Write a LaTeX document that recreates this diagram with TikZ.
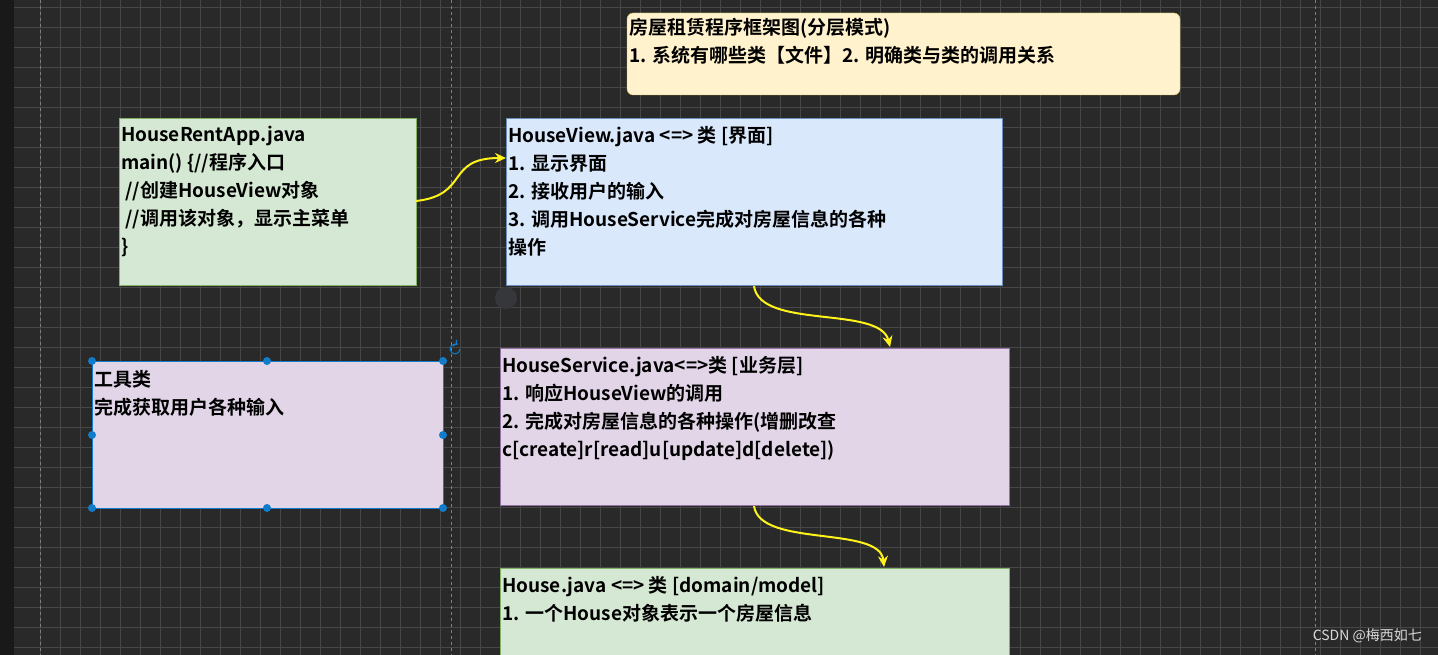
\documentclass[tikz,border=0pt]{standalone}
\usepackage{fontspec}
\usetikzlibrary{arrows.meta}
\setmainfont{Noto Sans CJK SC}[BoldFont={* Bold}]
\begin{document}
\begin{tikzpicture}[x=1pt,y=-1pt,
  box/.style={draw=#1,line width=1pt},
  txt/.style={anchor=north west,align=left,font=\fontsize{19}{28}\selectfont\bfseries,text=black,inner sep=0pt},
  arr/.style={draw=yellow!90!white,line width=2pt,-{Stealth[length=11pt,width=10pt]}},
  handle/.style={circle,fill=cyan!60!blue,inner sep=0pt,minimum size=8pt}]
\useasboundingbox (0,0) rectangle (1438,655);
\fill[black!84] (0,0) rectangle (1438,655);
\fill[black!90] (0,0) rectangle (14,655);
\foreach \x in {40,60,...,1438} \draw[black!72,line width=0.6pt] (\x,0) -- (\x,655);
\foreach \y in {7,27,...,655} \draw[black!72,line width=0.6pt] (14,\y) -- (1438,\y);
\foreach \x in {40,451,1315} \draw[black!50,dashed,line width=0.8pt] (\x,0) -- (\x,655);
% boxes
\filldraw[fill={rgb,255:red,255;green,242;blue,204},draw={rgb,255:red,214;green,182;blue,86},rounded corners=6pt] (627,13) rectangle (1180,95);
\node[txt] (title) at (629,18) {房屋租赁程序框架图(分层模式)\\1. 系统有哪些类【文件】2. 明确类与类的调用关系};
\filldraw[fill={rgb,255:red,213;green,232;blue,212},draw={rgb,255:red,130;green,179;blue,102}] (119,118) rectangle (416,285);
\node[txt] (app) at (121,126) {HouseRentApp.java\\main() \{//程序入口\\\ //创建HouseView对象\\\ //调用该对象，显示主菜单\\\}};
\filldraw[fill={rgb,255:red,218;green,232;blue,252},draw={rgb,255:red,108;green,142;blue,191}] (506,118) rectangle (1002,285);
\node[txt] (view) at (508,126) {HouseView.java <=> 类 [界面]\\1. 显示界面\\2. 接收用户的输入\\3. 调用HouseService完成对房屋信息的各种\\操作};
\filldraw[fill={rgb,255:red,225;green,213;blue,231},draw={rgb,255:red,150;green,115;blue,166}] (92,361) rectangle (443,508);
\node[txt] (tool) at (94,370) {工具类\\完成获取用户各种输入};
\draw[cyan!60!blue,line width=0.8pt] (92,361) rectangle (443,508);
\foreach \p in {(92,361),(267,361),(443,361),(92,435),(443,435),(92,508),(267,508),(443,508)} \node[handle] at \p {};
\draw[cyan!60!blue,line width=1pt,->] (460,349) arc (0:300:5);
\filldraw[fill={rgb,255:red,225;green,213;blue,231},draw={rgb,255:red,150;green,115;blue,166}] (500,348) rectangle (1009,505);
\node[txt] (svc) at (502,356) {HouseService.java<=>类 [业务层]\\1. 响应HouseView的调用\\2. 完成对房屋信息的各种操作(增删改查\\c[create]r[read]u[update]d[delete])};
\filldraw[fill={rgb,255:red,213;green,232;blue,212},draw={rgb,255:red,130;green,179;blue,102}] (500,568) rectangle (1009,660);
\node[txt] (house) at (502,576) {House.java <=> 类 [domain/model]\\1. 一个House对象表示一个房屋信息};
% arrows
\coordinate (a1) at (416,201); \coordinate (b1) at (506,158);
\draw[arr] (a1) .. controls (470,195) and (445,158) .. (b1);
\coordinate (a2) at (754,286); \coordinate (b2) at (890,347);
\draw[arr] (a2) .. controls (760,330) and (880,305) .. (b2);
\coordinate (a3) at (754,506); \coordinate (b3) at (884,567);
\draw[arr] (a3) .. controls (760,548) and (880,525) .. (b3);
\fill[black!70!cyan!40!black] (506,298) circle (11pt);
\node[anchor=south east,text=white!85!black,font=\fontsize{14}{16}\selectfont,inner sep=0pt] (wm) at (1422,643) {CSDN @梅西如七};
\end{tikzpicture}
\end{document}
